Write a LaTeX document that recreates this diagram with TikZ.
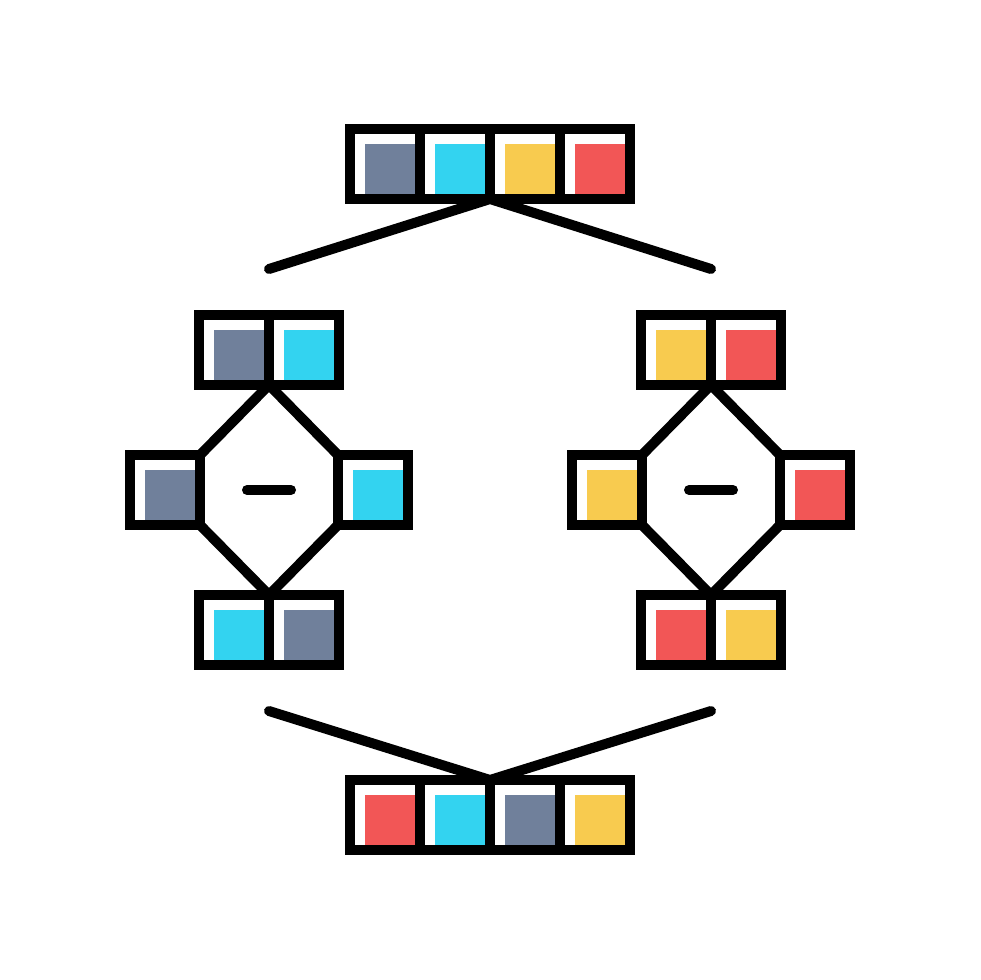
\documentclass[tikz,border=0pt]{standalone}
\usetikzlibrary{positioning, backgrounds}
\definecolor{MyGray}{HTML}{70809B}
\definecolor{MyCyan}{HTML}{33D3F0}
\definecolor{MyYellow}{HTML}{F8CB4F}
\definecolor{MyRed}{HTML}{F25656}

\begin{document}
\begin{tikzpicture}[x=1pt, y=-1pt,
			cell/.style={draw, fill=white, rectangle, line width=10pt, minimum width=70pt, minimum height=70pt, inner sep=0pt, outer sep=0pt,
				path picture={\fill[#1] ([shift={(15pt,-15pt)}]path picture bounding box.north west) rectangle (path picture bounding box.south east);}},
			wire/.style={line width=10pt, line cap=round, line join=round}
		]
			\useasboundingbox (0,0) rectangle (980,980);

			% top row
			\node (t1) [cell=MyGray] at (385,164) {};
			\node (t2) [cell=MyCyan, right=0pt of t1] {};
			\node (t3) [cell=MyYellow, right=0pt of t2] {};
			\node (t4) [cell=MyRed, right=0pt of t3] {};

			% left group
			\node (lp1) [cell=MyGray] at (234,350) {};
			\node (lp2) [cell=MyCyan, right=0pt of lp1] {};
			\node (ll) [cell=MyGray] at (165,490) {};
			\node (lr) [cell=MyCyan] at (373,490) {};
			\node (lq1) [cell=MyCyan] at (234,630) {};
			\node (lq2) [cell=MyGray, right=0pt of lq1] {};

			% right group
			\node (rp1) [cell=MyYellow] at (676,350) {};
			\node (rp2) [cell=MyRed, right=0pt of rp1] {};
			\node (rl) [cell=MyYellow] at (607,490) {};
			\node (rr) [cell=MyRed] at (815,490) {};
			\node (rq1) [cell=MyRed] at (676,630) {};
			\node (rq2) [cell=MyYellow, right=0pt of rq1] {};

			% bottom row
			\node (b1) [cell=MyRed] at (385,815) {};
			\node (b2) [cell=MyCyan, right=0pt of b1] {};
			\node (b3) [cell=MyGray, right=0pt of b2] {};
			\node (b4) [cell=MyYellow, right=0pt of b3] {};

			\coordinate (tl) at (269,269);
			\coordinate (tr) at (711,269);
			\coordinate (bl) at (269,711);
			\coordinate (br) at (711,711);
			\coordinate (lc) at (269,490);
			\coordinate (rc) at (711,490);

			\begin{scope}[on background layer]
				\fill[white] (0,0) rectangle (980,980);
				\draw[wire] (tl) -- (t2.south east) -- (tr);
				\draw[wire] (bl) -- (b2.north east) -- (br);
				\draw[wire] (lp1.south east) -- (ll.north east) (ll.south east) -- (lq1.north east) -- (lr.south west) (lr.north west) -- (lp1.south east);
				\draw[wire] (rp1.south east) -- (rl.north east) (rl.south east) -- (rq1.north east) -- (rr.south west) (rr.north west) -- (rp1.south east);
			\end{scope}

			\draw[wire] ([xshift=-22pt]lc) -- ([xshift=22pt]lc);
			\draw[wire] ([xshift=-22pt]rc) -- ([xshift=22pt]rc);
		\end{tikzpicture}
\end{document}
